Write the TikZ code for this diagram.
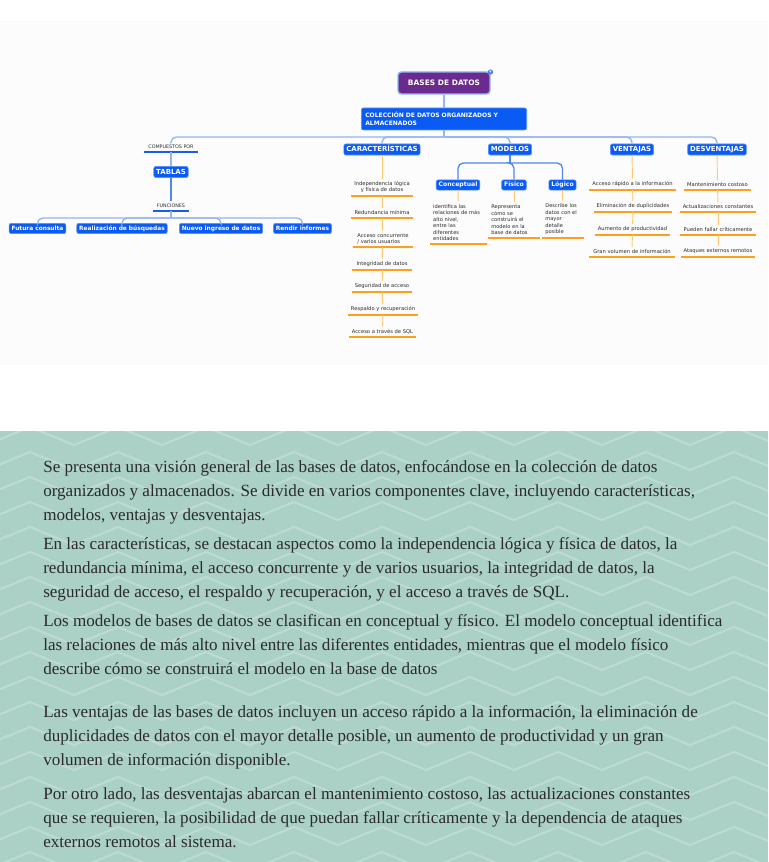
\documentclass[tikz,border=0pt]{standalone}
\usepackage{fontspec}
\setmainfont{Liberation Serif}
\newfontfamily\mapfont{DejaVu Sans}
\usetikzlibrary{positioning}
\definecolor{boxblue}{HTML}{0A5BF5}
\definecolor{rimblue}{HTML}{5A93F8}
\definecolor{rootpurple}{HTML}{6B2B8E}
\definecolor{rootrim}{HTML}{8DB5F8}
\definecolor{linkblue}{HTML}{95B4F4}
\definecolor{modelblue}{HTML}{4F88F2}
\definecolor{tagblue}{HTML}{1A5CF0}
\definecolor{lineorange}{HTML}{FF9F1C}
\definecolor{linkorange}{HTML}{FFC872}
\definecolor{seagreen}{HTML}{ABD1C6}
\definecolor{inkgray}{HTML}{2B2B2B}
\begin{document}
\begin{tikzpicture}[x=0.75pt,y=-0.75pt,
  root/.style={fill=rootpurple,draw=rootrim,line width=1.1pt,rounded corners=2.5pt,text=white,
    font=\mapfont\bfseries\fontsize{5.6}{6.5}\selectfont,minimum width=69pt,minimum height=16.5pt},
  fold/.style={circle,fill=boxblue!80,text=white,inner sep=0.5pt,font=\mapfont\fontsize{3.5}{3.5}\selectfont},
  topic/.style={fill=boxblue,draw=rimblue,line width=0.5pt,rounded corners=1.5pt,text=white,
    font=\mapfont\bfseries\fontsize{5.2}{6}\selectfont,text height=3.9pt,text depth=0.6pt,
    inner xsep=1.8pt,inner ysep=1.9pt},
  leaf/.style={topic,font=\mapfont\bfseries\fontsize{4.4}{5}\selectfont,text height=3.5pt,text depth=1pt,
    inner ysep=1.6pt},
  tag/.style={font=\mapfont\fontsize{3.6}{4.4}\selectfont,text=inkgray,inner xsep=3pt,inner ysep=2pt,
    append after command={(\tikzlastnode.south west) edge[draw=tagblue,line width=1.5pt] (\tikzlastnode.south east)}},
  item/.style={font=\mapfont\fontsize{3.9}{4.7}\selectfont,text=inkgray,inner xsep=2.2pt,inner ysep=2pt,
    align=center,anchor=south,
    append after command={(\tikzlastnode.south west) edge[draw=lineorange,line width=1.5pt] (\tikzlastnode.south east)}},
  note/.style={item,align=left,font=\mapfont\fontsize{3.85}{4.9}\selectfont},
  link/.style={draw=linkblue,line width=1pt,rounded corners=4pt},
  mlink/.style={draw=modelblue,line width=1pt,rounded corners=4pt},
  olink/.style={draw=linkorange,line width=0.7pt},
  para/.style={anchor=north west,align=left,inner sep=0pt,text=inkgray,font=\fontsize{12.8}{18}\selectfont}
]
\useasboundingbox (0,0) rectangle (768,862);
% fondos
\fill[black!1] (0,20) rectangle (768,365);
\fill[seagreen] (0,431) rectangle (768,862);
\begin{scope}
\clip (0,431) rectangle (768,862);
\foreach \row in {0,...,17}
  \draw[white,opacity=0.22,line width=1.5pt] (-14,{445+25*\row})
    \foreach \k in {0,...,9} { -- ++(44,-18) -- ++(44,18) };
\end{scope}
% raiz
\node[root] (bases) at (444,83) {BASES DE DATOS};
\node[fold] (toggle) at (490.5,72) {▾};
\node[topic,align=left,text width=118pt,text height=,text depth=,minimum height=16.5pt,
  font=\mapfont\bfseries\fontsize{4.5}{6}\selectfont,inner xsep=3pt] (coleccion) at (444,119)
  {COLECCIÓN DE DATOS ORGANIZADOS Y\\ALMACENADOS};
\draw[link] (bases) -- (coleccion);
\coordinate (hub) at (444,137);
\draw[link] (coleccion) -- (hub);
% ramas
\node[tag] (compuestos) at (171,147) {COMPUESTOS POR};
\node[topic] (caract) at (382,149.5) {CARACTERÍSTICAS};
\node[topic] (modelos) at (510,149.5) {MODELOS};
\node[topic] (ventajas) at (632,149.5) {VENTAJAS};
\node[topic] (desventajas) at (717,149.5) {DESVENTAJAS};
\draw[link] (hub) -| (compuestos.north);
\draw[link] (hub) -| (caract.north);
\draw[link] (hub) -| (modelos.north);
\draw[link] (hub) -| (ventajas.north);
\draw[link] (hub) -| (desventajas.north);
% tablas
\node[topic] (tablas) at (171,172) {TABLAS};
\node[tag] (funciones) at (171,206) {FUNCIONES};
\draw[link] (compuestos) -- (tablas);
\draw[mlink] (tablas) -- (funciones);
\coordinate (fhub) at (171,218);
\draw[link] (funciones) -- (fhub);
\node[leaf] (futura) at (37.5,228.5) {Futura consulta};
\node[leaf] (busquedas) at (122,228.5) {Realización de búsquedas};
\node[leaf] (ingreso) at (221,228.5) {Nuevo ingreso de datos};
\node[leaf] (informes) at (302.5,228.5) {Rendir informes};
\draw[link] (fhub) -| (futura.north);
\draw[link] (fhub) -| (busquedas.north);
\draw[link] (fhub) -| (ingreso.north);
\draw[link] (fhub) -| (informes.north);
% caracteristicas
\node[item,minimum width=45pt] (car1) at (382,196) {Independencia lógica\\y física de datos};
\node[item,minimum width=45pt] (car2) at (382,218) {Redundancia mínima};
\node[item,minimum width=45pt,align=left] (car3) at (383,247) {Acceso concurrente\\/ varios usuarios};
\node[item,minimum width=44pt] (car4) at (382,270) {Integridad de datos};
\node[item,minimum width=44pt] (car5) at (382,292) {Seguridad de acceso};
\node[item,minimum width=52pt] (car6) at (383,315) {Respaldo y recuperación};
\node[item,minimum width=50pt] (car7) at (382.5,337) {Acceso a través de SQL};
\draw[olink] (caract) -- (car1);
\draw[olink] (car1) -- (car2);
\draw[olink] (car2) -- (car3);
\draw[olink] (car3) -- (car4);
\draw[olink] (car4) -- (car5);
\draw[olink] (car5) -- (car6);
\draw[olink] (car6) -- (car7);
% modelos
\coordinate (mhub) at (510,163);
\draw[mlink] (modelos) -- (mhub);
\node[leaf,font=\mapfont\bfseries\fontsize{4.6}{5}\selectfont] (conceptual) at (458,185) {Conceptual};
\node[leaf,font=\mapfont\bfseries\fontsize{4.6}{5}\selectfont] (fisico) at (514,185) {Físico};
\node[leaf,font=\mapfont\bfseries\fontsize{4.6}{5}\selectfont] (logico) at (562.5,185) {Lógico};
\draw[mlink] (mhub) -| (conceptual.north);
\draw[mlink] (mhub) -| (fisico.north);
\draw[mlink] (mhub) -| (logico.north);
\node[note,text width=38pt] (dconceptual) at (458.5,244)
  {identifica las\\relaciones de más\\alto nivel,\\entre las\\diferentes\\entidades};
\node[note,text width=34pt] (dfisico) at (514,238)
  {Representa\\cómo se\\construirá el\\modelo en la\\base de datos};
\node[note,text width=26.5pt] (dlogico) at (563,238)
  {Describe los\\datos con el\\mayor\\detalle\\posible};
\draw[olink] (conceptual) -- (dconceptual);
\draw[olink] (fisico) -- (dfisico);
\draw[olink] (logico) -- (dlogico);
% ventajas
\node[item,minimum width=65pt] (ven1) at (632.5,190) {Acceso rápido a la información};
\node[item,minimum width=58pt] (ven2) at (633,212) {Eliminación de duplicidades};
\node[item,minimum width=56pt] (ven3) at (632.5,235) {Aumento de productividad};
\node[item,minimum width=64pt] (ven4) at (632,257) {Gran volumen de información};
\draw[olink] (ventajas) -- (ven1);
\draw[olink] (ven1) -- (ven2);
\draw[olink] (ven2) -- (ven3);
\draw[olink] (ven3) -- (ven4);
% desventajas
\node[item,minimum width=50pt] (des1) at (717.5,190) {Mantenimiento costoso};
\node[item,minimum width=55pt] (des2) at (718,212) {Actualizaciones constantes};
\node[item,minimum width=55pt] (des3) at (718,235) {Pueden fallar críticamente};
\node[item,minimum width=54pt] (des4) at (718,257) {Ataques externos remotos};
\draw[olink] (desventajas) -- (des1);
\draw[olink] (des1) -- (des2);
\draw[olink] (des2) -- (des3);
\draw[olink] (des3) -- (des4);
% texto
\node[para] (resumen) at (43,455.2) {\strut Se presenta una visión general de las bases de datos, enfocándose en la colección de datos\\
  organizados y almacenados. Se divide en varios componentes clave, incluyendo características,\\
  modelos, ventajas y desventajas.};
\node[para] (rasgos) at (43,532.2) {\strut En las características, se destacan aspectos como la independencia lógica y física de datos, la\\
  redundancia mínima, el acceso concurrente y de varios usuarios, la integridad de datos, la\\
  seguridad de acceso, el respaldo y recuperación, y el acceso a través de SQL.};
\node[para] (tipos) at (43,609.2) {\strut Los modelos de bases de datos se clasifican en conceptual y físico. El modelo conceptual identifica\\
  las relaciones de más alto nivel entre las diferentes entidades, mientras que el modelo físico\\
  describe cómo se construirá el modelo en la base de datos};
\node[para] (pros) at (43,700.2) {\strut Las ventajas de las bases de datos incluyen un acceso rápido a la información, la eliminación de\\
  duplicidades de datos con el mayor detalle posible, un aumento de productividad y un gran\\
  volumen de información disponible.};
\node[para] (contras) at (43,782.2) {\strut Por otro lado, las desventajas abarcan el mantenimiento costoso, las actualizaciones constantes\\
  que se requieren, la posibilidad de que puedan fallar críticamente y la dependencia de ataques\\
  externos remotos al sistema.};
\end{tikzpicture}
\end{document}
